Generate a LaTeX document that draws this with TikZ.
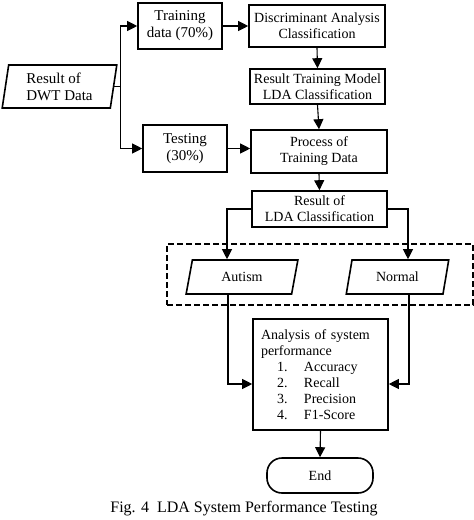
\documentclass[tikz,border=0pt]{standalone}
\usepackage{fontspec}
\setmainfont{Liberation Serif}
\usetikzlibrary{shapes.geometric,arrows.meta,calc}
\tikzset{
  box/.style={draw, line width=1.6pt, rectangle, inner sep=2pt, align=center, font=\fontsize{14}{16}\selectfont},
  para/.style={draw, line width=1.6pt, trapezium, trapezium stretches=true, inner sep=2pt, font=\fontsize{14}{16}\selectfont},
  conn/.style={line width=1.1pt, -{Triangle[length=10pt,width=10pt]}},
  plain/.style={line width=1.1pt},
  dashbox/.style={draw, line width=1.6pt, dash pattern=on 6pt off 3pt},
}
\begin{document}
\begin{tikzpicture}[x=1pt,y=-1pt]
\useasboundingbox (0,0) rectangle (474,520);
% left part
\node[para, trapezium left angle=82, trapezium right angle=98, minimum width=115pt, minimum height=43pt, align=left, font=\fontsize{15}{17}\selectfont] (dwt) at (59.5,86.5) {Result of\\DWT Data};
\node[box, minimum width=84pt, minimum height=46pt, font=\fontsize{15}{17}\selectfont] (train) at (180,26) {Training\\data (70\%)};
\node[box, minimum width=84pt, minimum height=47pt, font=\fontsize{15}{17}\selectfont] (test) at (185,148.5) {Testing\\(30\%)};
% right column
\node[box, minimum width=136pt, minimum height=42pt] (disc) at (317,26) {Discriminant Analysis\\Classification};
\node[box, minimum width=135pt, minimum height=35pt] (model) at (317.5,86.5) {Result Training Model\\LDA Classification};
\node[box, minimum width=136pt, minimum height=43pt] (proc) at (319,151.5) {Process of\\Training Data};
\node[box, minimum width=135pt, minimum height=36pt] (lda) at (319.5,209) {Result of\\LDA Classification};
% dashed group
\node[dashbox, minimum width=306pt, minimum height=61pt] (grp) at (320,274.5) {};
\node[para, trapezium left angle=78, trapezium right angle=102, minimum width=112pt, minimum height=34pt] (autism) at (242,277) {Autism};
\node[para, trapezium left angle=78, trapezium right angle=102, minimum width=103pt, minimum height=34pt] (normal) at (397.5,277) {Normal};
% analysis
\node[box, minimum width=135pt, minimum height=111pt, text width=119pt, align=left, inner sep=8pt] (analysis) at (320.5,374.5) {Analysis of system\\performance\\
\hspace*{16pt}\makebox[27pt][l]{1.}Accuracy\\
\hspace*{16pt}\makebox[27pt][l]{2.}Recall\\
\hspace*{16pt}\makebox[27pt][l]{3.}Precision\\
\hspace*{16pt}\makebox[27pt][l]{4.}F1-Score};
\node[box, rounded corners=15pt, minimum width=106pt, minimum height=35pt] (end) at (320,475.5) {End};
% caption
\node[font=\fontsize{16}{18}\selectfont, inner sep=0pt] (cap) at (244,509) {Fig. 4\ \ LDA System Performance Testing};
% connectors
\draw[plain] (dwt.east) -- ++(6,0) coordinate (split);
\draw[conn] (split) |- (train.west);
\draw[conn] (split) |- (test.west);
\draw[conn] (train.east) -- (disc.west);
\draw[conn] (disc.south) -- (model.north);
\draw[conn] (model.south) -- (proc.north);
\draw[conn] (test.east) -- (test.east -| proc.west);
\draw[conn] (proc.south) -- (lda.north);
\draw[conn] (lda.west) -| ([xshift=-15pt]autism.north);
\draw[conn] (lda.east) -| ([xshift=10.5pt]normal.north);
\draw[conn] ([xshift=-14pt]autism.south) |- ([yshift=-9.5pt]analysis.west);
\draw[conn] ([xshift=11.5pt]normal.south) |- ([yshift=-9.5pt]analysis.east);
\draw[conn] (analysis.south) -- (end.north);
\end{tikzpicture}
\end{document}
